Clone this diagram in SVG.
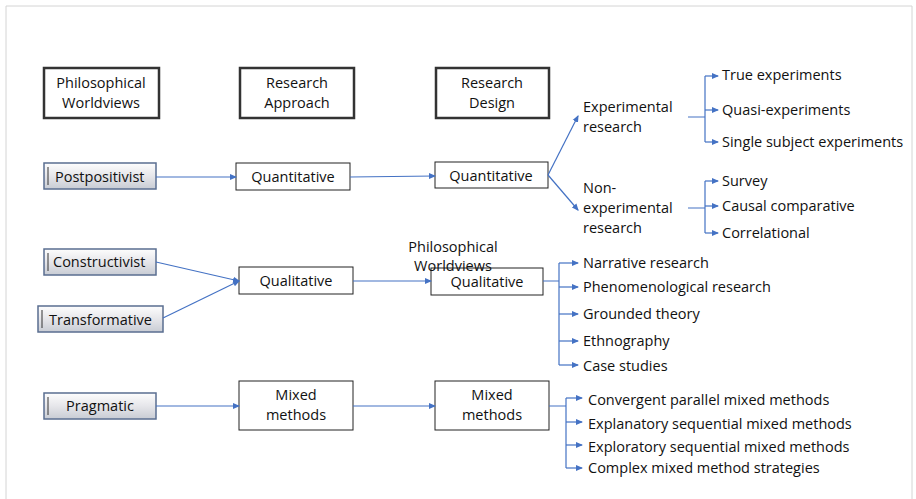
<svg xmlns="http://www.w3.org/2000/svg" width="916" height="499" viewBox="0 0 916 499">
<defs>
<style>
text{font-family:"Open Sans","Liberation Sans",sans-serif;font-size:14.5px;fill:#111}
.hdr{fill:#fff;stroke:#333;stroke-width:2.5}
.box{fill:#fff;stroke:#222;stroke-width:1}
.wv{fill:url(#g);stroke:#5a6e90;stroke-width:1.5}
.c{stroke:#4472c4;stroke-width:1.2;fill:none}
.m{text-anchor:middle}
</style>
<linearGradient id="g" x1="0" y1="0" x2="0" y2="1"><stop offset="0" stop-color="#fdfdfd"/><stop offset="0.5" stop-color="#e6e6ea"/><stop offset="1" stop-color="#c8ccd4"/></linearGradient>
<marker id="a" markerWidth="6" markerHeight="6" refX="5" refY="3" orient="auto"><path d="M0,0.5 L6,3 L0,5.5z" fill="#4472c4"/></marker>
</defs>
<rect x="0" y="0" width="916" height="499" fill="#fff"/>
<path d="M6,499 V6 H912 V499" fill="none" stroke="#d4d4d4"/>
<g id="h1"><rect class="hdr" x="44" y="68" width="115" height="50"/><text class="m" x="101" y="88">Philosophical</text><text class="m" x="101" y="108">Worldviews</text></g>
<g id="h2"><rect class="hdr" x="240" y="68" width="114" height="50"/><text class="m" x="297" y="88">Research</text><text class="m" x="297" y="108">Approach</text></g>
<g id="h3"><rect class="hdr" x="436" y="68" width="113" height="50"/><text class="m" x="492" y="88">Research</text><text class="m" x="492" y="108">Design</text></g>
<g id="w1"><rect class="wv" x="44" y="163" width="112" height="26"/><line x1="48" y1="167" x2="48" y2="185" stroke="#333"/><text x="55" y="182">Postpositivist</text></g>
<g id="w2"><rect class="wv" x="44" y="249" width="112" height="26"/><line x1="48" y1="253" x2="48" y2="271" stroke="#333"/><text x="53" y="267">Constructivist</text></g>
<g id="w3"><rect class="wv" x="38" y="306" width="125" height="26"/><line x1="42" y1="310" x2="42" y2="328" stroke="#333"/><text x="49" y="325">Transformative</text></g>
<g id="w4"><rect class="wv" x="44" y="393" width="112" height="26"/><line x1="48" y1="397" x2="48" y2="415" stroke="#333"/><text class="m" x="100" y="411">Pragmatic</text></g>
<g id="a1"><rect class="box" x="236" y="163" width="114" height="27"/><text class="m" x="293" y="182">Quantitative</text></g>
<g id="a2"><rect class="box" x="239" y="267" width="114" height="27"/><text class="m" x="296" y="286">Qualitative</text></g>
<g id="a3"><rect class="box" x="239" y="381" width="114" height="49"/><text class="m" x="296" y="400">Mixed</text><text class="m" x="296" y="420">methods</text></g>
<g id="d1"><rect class="box" x="435" y="162" width="113" height="26"/><text class="m" x="491" y="181">Quantitative</text></g>
<g id="d2"><rect class="box" x="431" y="268" width="112" height="27"/><text class="m" x="487" y="287">Qualitative</text></g>
<g id="d3"><rect class="box" x="435" y="381" width="114" height="49"/><text class="m" x="492" y="400">Mixed</text><text class="m" x="492" y="420">methods</text></g>
<g id="lbl"><text class="m" x="453" y="252">Philosophical</text><text class="m" x="453" y="271">Worldviews</text></g>
<g id="t"><text x="583" y="112">Experimental</text><text x="583" y="132">research</text>
<text x="583" y="193">Non-</text><text x="583" y="213">experimental</text><text x="583" y="233">research</text>
<text x="722" y="80">True experiments</text><text x="722" y="115">Quasi-experiments</text><text x="722" y="147">Single subject experiments</text>
<text x="722" y="186">Survey</text><text x="722" y="211">Causal comparative</text><text x="722" y="238">Correlational</text>
<text x="583" y="268">Narrative research</text><text x="583" y="292">Phenomenological research</text><text x="583" y="319">Grounded theory</text><text x="583" y="346">Ethnography</text><text x="583" y="371">Case studies</text>
<text x="588" y="405">Convergent parallel mixed methods</text><text x="588" y="429">Explanatory sequential mixed methods</text><text x="588" y="452">Exploratory sequential mixed methods</text><text x="588" y="473">Complex mixed method strategies</text></g>
<g id="connectors">
<path class="c" marker-end="url(#a)" d="M156,177H236"/>
<path class="c" marker-end="url(#a)" d="M350,177L435,176"/>
<path class="c" marker-end="url(#a)" d="M156,262L239,281"/>
<path class="c" marker-end="url(#a)" d="M163,318L239,281"/>
<path class="c" marker-end="url(#a)" d="M353,281H431"/>
<path class="c" marker-end="url(#a)" d="M156,406H239"/>
<path class="c" marker-end="url(#a)" d="M353,406H435"/>
<path class="c" marker-end="url(#a)" d="M548,175L578,116"/>
<path class="c" marker-end="url(#a)" d="M548,175L578,210"/>
<path class="c" stroke-width="2" d="M688,117H705M688,208H705"/>
<path class="c" d="M705,76V142M705,181V233M543,281H559M559,263V365M549,406H566M566,398V468"/>
<path class="c" marker-end="url(#a)" d="M705,76H718"/><path class="c" marker-end="url(#a)" d="M705,110H718"/><path class="c" marker-end="url(#a)" d="M705,142H718"/>
<path class="c" marker-end="url(#a)" d="M705,181H718"/><path class="c" marker-end="url(#a)" d="M705,206H718"/><path class="c" marker-end="url(#a)" d="M705,233H718"/>
<path class="c" marker-end="url(#a)" d="M559,263H578"/><path class="c" marker-end="url(#a)" d="M559,287H578"/><path class="c" marker-end="url(#a)" d="M559,314H578"/><path class="c" marker-end="url(#a)" d="M559,341H578"/><path class="c" marker-end="url(#a)" d="M559,365H578"/>
<path class="c" marker-end="url(#a)" d="M566,398H582"/><path class="c" marker-end="url(#a)" d="M566,422H582"/><path class="c" marker-end="url(#a)" d="M566,445H582"/><path class="c" marker-end="url(#a)" d="M566,468H582"/>
</g>
</svg>
